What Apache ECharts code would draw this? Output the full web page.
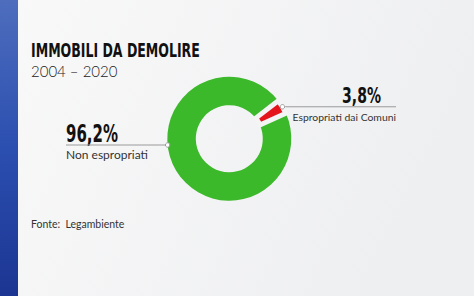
<!DOCTYPE html>
<html><head><meta charset="utf-8">
<script src="https://cdn.jsdelivr.net/npm/echarts@6/dist/echarts.min.js"></script>
<style>html,body{margin:0;padding:0;}#c{width:474px;height:296px;}</style>
</head><body><div id="c"></div>
<script>
var categories = ['Non espropriati', 'Espropriati dai Comuni'];
var values = [96.2, 3.8];
var titleText = 'IMMOBILI DA DEMOLIRE';
var subtitleText = '2004 – 2020';
var sourceText = 'Fonte:  Legambiente';

var palette = ['#3cb82b', '#e4151b'];
var CX = 229.3, CY = 138.7, R0 = 33.5, R1 = 62;
var RED_MID = 31; // degrees
var total = values.reduce(function(a,b){return a+b;},0);
var startAngle = RED_MID + (values[1]/2)/total*360 + values[0]/total*360 - 360;

function fmt(v){ return v.toFixed(1).replace('.', ',') + '%'; }

var mctx = document.createElement('canvas').getContext('2d');
function fitScale(text, font, target){ mctx.font = font; var w = mctx.measureText(text).width; return w > 0 ? target / w : 1; }

var chart = echarts.init(document.getElementById('c'), null, {renderer:'svg'});
var boldFont = 'bold 20px "DejaVu Sans Condensed","DejaVu Sans",sans-serif';
var bigFont = 'bold 24px "DejaVu Sans Condensed","DejaVu Sans",sans-serif';
var midFont = 'bold 21px "DejaVu Sans Condensed","DejaVu Sans",sans-serif';

var redRad = RED_MID*Math.PI/180;
var redAnchor = [CX + R1*Math.cos(redRad), CY - R1*Math.sin(redRad)];
var greenY = 145;
var greenAnchor = [CX - Math.sqrt(R1*R1 - (greenY-CY)*(greenY-CY)), greenY];

var v0 = fmt(values[0]), v1 = fmt(values[1]);
var s0 = fitScale(v0, bigFont, 52);
var s1 = fitScale(v1, midFont, 39);
var sT = fitScale(titleText, boldFont, 169);

var option = {
  backgroundColor: {type:'linear', x:0, y:0, x2:1, y2:0.3, colorStops:[{offset:0,color:'#f9f9f9'},{offset:1,color:'#eeeff1'}]},
  color: palette,
  animation: false,
  graphic: [
    {type:'rect', shape:{x:0,y:0,width:18,height:296}, style:{fill:{type:'linear',x:0,y:0,x2:0,y2:1,colorStops:[{offset:0,color:'#4e6dbd'},{offset:0.5,color:'#2b4fb0'},{offset:1,color:'#1c3592'}]}}},
    {type:'text', x:31, y:50, scaleX:sT, style:{text:titleText, font:boldFont, fill:'#111', verticalAlign:'middle'}},
    {type:'text', x:31, y:71, style:{text:subtitleText, font:'300 15px Lato, sans-serif', fill:'#222', verticalAlign:'middle'}},
    {type:'text', x:31, y:224, style:{text:sourceText, font:'10.5px Lato, sans-serif', fill:'#333', verticalAlign:'middle'}},
    {type:'text', x:66, y:134, scaleX:s0, style:{text:v0, font:bigFont, fill:'#111', verticalAlign:'middle', align:'left'}},
    {type:'text', x:381, y:96, scaleX:s1, style:{text:v1, font:midFont, fill:'#111', verticalAlign:'middle', align:'right'}},
    {type:'circle', z:100, shape:{cx:redAnchor[0], cy:redAnchor[1], r:2.2}, style:{fill:'#fff', stroke:'#999', lineWidth:1}},
    {type:'circle', z:100, shape:{cx:greenAnchor[0], cy:greenAnchor[1], r:2.2}, style:{fill:'#fff', stroke:'#999', lineWidth:1}}
  ],
  series: [{
    type:'pie',
    center:[CX, CY],
    radius:[R0, R1],
    startAngle: startAngle,
    clockwise: true,
    data: categories.map(function(n,i){
      var item = {name:n, value:values[i]};
      if (i===1) item.itemStyle = {borderColor:'#f4f4f5', borderWidth:5, borderJoin:'round'};
      return item;
    }),
    label: {
      show:true,
      formatter: function(p){ return '{n'+p.dataIndex+'|'+p.name+'}'; },
      rich: {
        n0:{fontFamily:'Lato, sans-serif', fontSize:12, lineHeight:16, color:'#333'},
        n1:{fontFamily:'Lato, sans-serif', fontSize:10.4, lineHeight:16, color:'#333'}
      }
    },
    labelLine: {show:true, lineStyle:{color:'#9a9a9a', width:1}},
    labelLayout: function(p){
      if (p.dataIndex === 0) {
        return {x:66, y:154, align:'left', verticalAlign:'middle',
          labelLinePoints:[greenAnchor.slice(), greenAnchor.slice(), [66, greenY]]};
      }
      return {x:396, y:117, align:'right', verticalAlign:'middle',
        labelLinePoints:[redAnchor.slice(), redAnchor.slice(), [396, redAnchor[1]]]};
    },
    emphasis:{disabled:true}
  }]
};
chart.setOption(option);
</script>
</body></html>
